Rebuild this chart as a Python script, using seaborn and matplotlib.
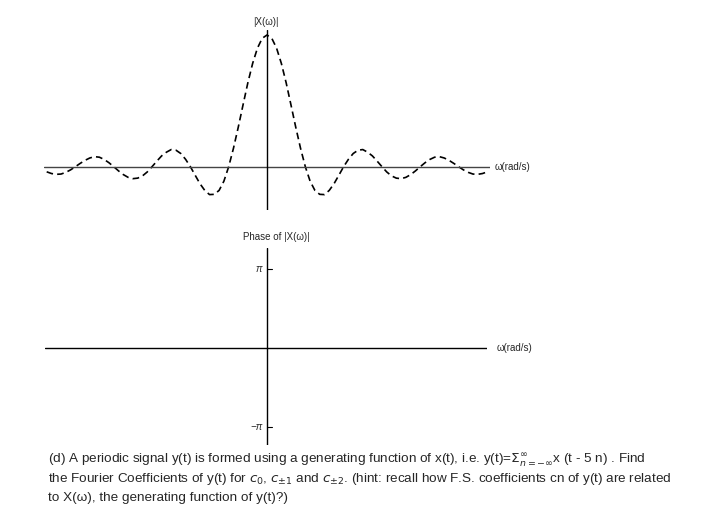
import numpy as np
import pandas as pd
import seaborn as sns
import matplotlib.pyplot as plt

sns.set_style("white")
plt.rcParams['font.family'] = ['Liberation Sans', 'DejaVu Sans']

# read-off values of |X(w)| for w >= 0 (symmetric curve)
w_half = [0, .125, .25, .375, .5, .625, .75, .875, 1, 1.125, 1.25, 1.375, 1.5, 1.625, 1.75, 1.875,
          2, 2.125, 2.25, 2.375, 2.5, 2.625, 2.75, 2.875, 3, 3.125, 3.25, 3.375, 3.5, 3.625, 3.75, 3.875,
          4, 4.125, 4.25, 4.375, 4.5, 4.625, 4.75, 4.875, 5, 5.125, 5.25, 5.375, 5.5, 5.625, 5.75]
x_half = [1, .975, .90, .784, .637, .47, .30, .14, 0, -.11, -.18, -.21, -.212, -.18, -.129, -.065,
          0, .056, .10, .125, .13, .11, .082, .042, 0, -.04, -.07, -.087, -.091, -.081, -.06, -.032,
          0, .03, .055, .072, .076, .066, .048, .025, 0, -.024, -.043, -.056, -.058, -.052, -.039]

w = [-v for v in w_half[::-1]] + w_half[1:]
mag = x_half[::-1] + x_half[1:]
df = pd.DataFrame({"w": w, "mag": mag})

W, H = 710, 511
fig = plt.figure(figsize=(W/100, H/100), dpi=100)

def axpx(l, r, t, b):
    return fig.add_axes([l/W, 1-b/H, (r-l)/W, (b-t)/H])

ax1 = axpx(44, 490, 30, 210)
sns.lineplot(data=df, x="w", y="mag", ax=ax1, color="black", linestyle=(0, (4, 2.5)), lw=1.2)
ax1.set_xlim(-5.82, 5.82)
ax1.set_ylim(-0.329, 1.038)
ax1.axhline(0, color="#444444", lw=1)
ax1.axvline(0, color="black", lw=1)
ax1.axis("off")
fig.text(266/W, 1-22/H, "|X(ω)|", ha="center", va="center", fontsize=7)
fig.text(495/W, 1-167/H, "ω(rad/s)", ha="left", va="center", fontsize=7)

ax2 = axpx(45, 487, 248, 445)
ax2.set_xlim(-5.78, 5.72)
ax2.set_ylim(-3.857, 3.977)
ax2.axhline(0, color="black", lw=1)
ax2.axvline(0, color="black", lw=1)
for v, lab in [(np.pi, "π"), (-np.pi, "−π")]:
    ax2.plot([0, 0.12], [v, v], color="black", lw=0.8)
    ax2.text(-0.12, v, lab, ha="right", va="center", fontsize=7, style="italic")
ax2.axis("off")
fig.text(276/W, 1-237/H, "Phase of |X(ω)|", ha="center", va="center", fontsize=7)
fig.text(497/W, 1-348/H, "ω(rad/s)", ha="left", va="center", fontsize=7)

lines = [
    r"(d) A periodic signal y(t) is formed using a generating function of x(t), i.e. y(t)=$\Sigma_{n=-\infty}^{\infty}$x (t - 5 n) . Find",
    r"the Fourier Coefficients of y(t) for $c_0$, $c_{\pm1}$ and $c_{\pm2}$. (hint: recall how F.S. coefficients cn of y(t) are related",
    r"to X(ω), the generating function of y(t)?)",
]
for i, t in enumerate(lines):
    fig.text(48/W, 1-(460+19*i)/H, t, ha="left", va="center", fontsize=9.7)

fig.savefig("out.png", dpi=100)
